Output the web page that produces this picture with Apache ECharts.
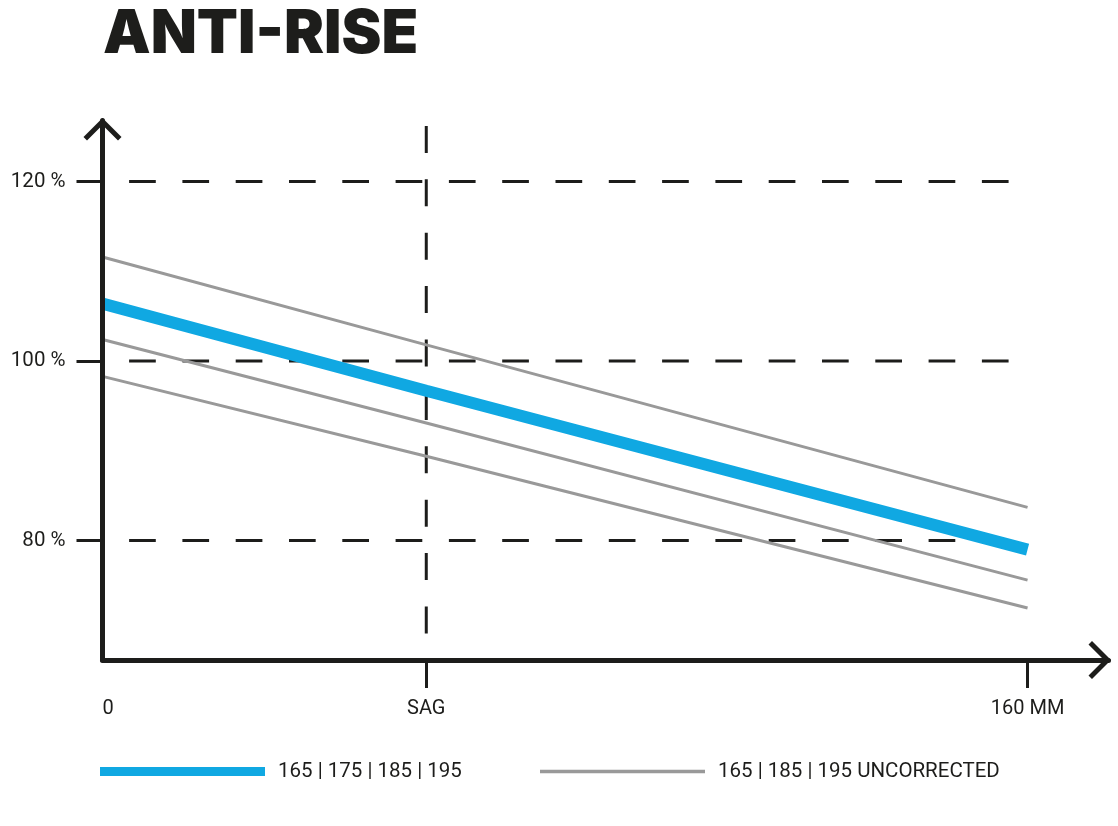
<!DOCTYPE html>
<html><head><meta charset="utf-8">
<script src="https://cdn.jsdelivr.net/npm/echarts@6/dist/echarts.min.js"></script>
<style>html,body{margin:0;padding:0;background:#fff}#c{width:1118px;height:826px}</style>
</head><body><div id="c"></div>
<script>
// ---- data ----
const titleText = 'ANTI-RISE';
const travelMM = [0, 56, 160];
const correctedName = '165 | 175 | 185 | 195';
const uncorrectedName = '165 | 185 | 195 UNCORRECTED';
const corrected = [106.4, 96.7, 79.0];
const uncorrectedHigh = [111.6, 101.8, 83.7];
const uncorrectedMid = [102.4, 93.1, 75.6];
const uncorrectedLow = [98.3, 89.4, 72.5];
const yTickValues = [80, 100, 120];
const xLabelValues = [0, 56, 160];
const xLabelTexts = ['0', 'SAG', '160 MM'];
const xTickValues = [56, 160];
const yMin = 66.7, yMax = 126.8, xMin = 0, xMax = 174;
const gridLevels = [120, 100, 80];
const gridStartMM = 4.6;
const gridEndMM = [157, 157, 147.6];
const sagMM = 56;
const sagLineTop = 126.2;

// ---- styles ----
const INK = '#1d1d1b';
const BLUE = '#10a8e2';
const GREY = '#999999';
const FONT = 'Roboto, "Noto Sans", sans-serif';
const CHEVRON = 'path://M19,0L38,19L34.5,22.5L19,7L3.5,22.5L0,19Z';

const pairs = (xs, ys) => xs.map((x, i) => [x, ys[i]]);

const series = [];
gridLevels.forEach((lvl, i) => {
  series.push({
    type: 'line', silent: true, symbol: 'none', z: 1,
    data: [[gridStartMM, lvl], [gridEndMM[i], lvl]],
    lineStyle: { color: INK, width: 3, type: [26.7, 26.6] }
  });
});
series.push({
  type: 'line', silent: true, symbol: 'none', z: 1,
  data: [[sagMM, sagLineTop], [sagMM, yMin]],
  lineStyle: { color: INK, width: 3, type: [27, 26.4] }
});
[uncorrectedHigh, uncorrectedMid, uncorrectedLow].forEach(arr => {
  series.push({
    name: uncorrectedName, type: 'line', symbol: 'none', z: 3,
    data: pairs(travelMM, arr),
    lineStyle: { color: GREY, width: 3 }, itemStyle: { color: GREY }
  });
});
series.push({
  name: correctedName, type: 'line', symbol: 'none', z: 4,
  data: pairs(travelMM, corrected),
  lineStyle: { color: BLUE, width: 12 }, itemStyle: { color: BLUE }
});

const legendText = { fontFamily: FONT, fontSize: 20.5, color: INK, padding: [0, 0, 0, 8] };

const option = {
  animation: false,
  backgroundColor: '#fff',
  title: {
    text: titleText, left: 98, top: 0,
    textStyle: { fontFamily: 'Inter, Roboto, sans-serif', fontWeight: 900, fontSize: 60, color: INK }
  },
  legend: [
    { left: 100, top: 761, padding: 0, icon: 'rect', itemWidth: 165, itemHeight: 9,
      data: [correctedName], selectedMode: false, textStyle: legendText },
    { left: 540, top: 761, padding: 0, icon: 'rect', itemWidth: 165, itemHeight: 3.5,
      data: [uncorrectedName], selectedMode: false, textStyle: legendText }
  ],
  grid: { left: 102.5, right: 9.5, top: 120.5, bottom: 166, containLabel: false },
  xAxis: {
    type: 'value', min: xMin, max: xMax, z: 10,
    axisLine: { show: true, symbol: ['none', CHEVRON], symbolSize: [38, 22.5], symbolOffset: [0, -8.75],
      lineStyle: { color: INK, width: 5 } },
    axisTick: { show: true, customValues: xTickValues, length: 28, lineStyle: { color: INK, width: 3 } },
    axisLabel: {
      customValues: xLabelValues, margin: 39, fontFamily: FONT, fontSize: 20, color: INK,
      formatter: v => {
        const i = xLabelValues.indexOf(v);
        const t = i >= 0 ? xLabelTexts[i] : '';
        return v === 0 ? '{z|' + t + '}' : t;
      },
      rich: { z: { fontFamily: FONT, fontSize: 20, color: INK, padding: [0, 0, 0, 11] } }
    },
    splitLine: { show: false }
  },
  yAxis: {
    type: 'value', min: yMin, max: yMax, z: 10,
    axisLine: { show: true, symbol: ['none', CHEVRON], symbolSize: [38, 22.5], symbolOffset: [0, -8.75],
      lineStyle: { color: INK, width: 5 } },
    axisTick: { show: true, customValues: yTickValues, length: 26, lineStyle: { color: INK, width: 3 } },
    axisLabel: {
      customValues: yTickValues, margin: 37, fontFamily: FONT, fontSize: 20.5, color: INK,
      formatter: v => v + ' %'
    },
    splitLine: { show: false }
  },
  series: series
};

const chart = echarts.init(document.getElementById('c'), null, { renderer: 'canvas' });
chart.setOption(option);
</script>
</body></html>
